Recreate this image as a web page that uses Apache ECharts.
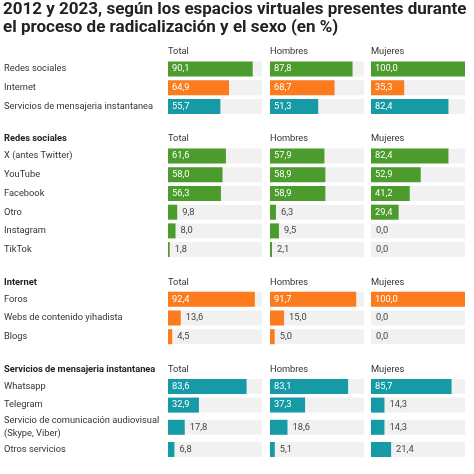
<!DOCTYPE html>
<html>
<head>
<meta charset="utf-8">
<script src="https://cdn.jsdelivr.net/npm/echarts@6/dist/echarts.min.js"></script>
<style>
  html, body { margin: 0; padding: 0; background: #fff; }
  #chart { width: 474px; height: 474px; }
</style>
</head>
<body>
<div id="chart"></div>
<script>
const columns = ['Total', 'Hombres', 'Mujeres'];

// resumen
const resumenCats = ['Redes sociales', 'Internet', 'Servicios de mensajeria instantanea'];
const resumenTotal = [90.1, 64.9, 55.7];
const resumenHombres = [87.8, 68.7, 51.3];
const resumenMujeres = [100.0, 35.3, 82.4];

// redes sociales
const redesCats = ['X (antes Twitter)', 'YouTube', 'Facebook', 'Otro', 'Instagram', 'TikTok'];
const redesTotal = [61.6, 58.0, 56.3, 9.8, 8.0, 1.8];
const redesHombres = [57.9, 58.9, 58.9, 6.3, 9.5, 2.1];
const redesMujeres = [82.4, 52.9, 41.2, 29.4, 0.0, 0.0];

// internet
const internetCats = ['Foros', 'Webs de contenido yihadista', 'Blogs'];
const internetTotal = [92.4, 13.6, 4.5];
const internetHombres = [91.7, 15.0, 5.0];
const internetMujeres = [100.0, 0.0, 0.0];

// mensajeria
const mensajeriaCats = ['Whatsapp', 'Telegram', 'Servicio de comunicación audiovisual\n(Skype, Viber)', 'Otros servicios'];
const mensajeriaTotal = [83.6, 32.9, 17.8, 6.8];
const mensajeriaHombres = [83.1, 37.3, 18.6, 5.1];
const mensajeriaMujeres = [85.7, 14.3, 14.3, 21.4];

const GREEN = '#4b9b2d';
const ORANGE = '#fb7b1d';
const TEAL = '#169aa6';

const blocks = [
  { name: '', cats: resumenCats, vals: [resumenTotal, resumenHombres, resumenMujeres], colors: [GREEN, ORANGE, TEAL] },
  { name: 'Redes sociales', cats: redesCats, vals: [redesTotal, redesHombres, redesMujeres], colors: [GREEN] },
  { name: 'Internet', cats: internetCats, vals: [internetTotal, internetHombres, internetMujeres], colors: [ORANGE] },
  { name: 'Servicios de mensajeria instantanea', cats: mensajeriaCats, vals: [mensajeriaTotal, mensajeriaHombres, mensajeriaMujeres], colors: [TEAL] }
];

const font = 'Roboto, sans-serif';
const fs = 9.3;
const colLeft = [168, 270, 371];
const colWidth = 94;
const pitch = 18.7;

const grids = [], xAxes = [], yAxes = [], series = [], graphics = [];
const fmt = v => v.toFixed(1).replace('.', ',');

let y = 52;
blocks.forEach(b => {
  if (b.name) {
    graphics.push({ type: 'text', x: 4, y: y, style: { text: b.name, font: 'bold ' + fs + 'px ' + font, fill: '#222', verticalAlign: 'middle' } });
  }
  columns.forEach((col, ci) => {
    graphics.push({ type: 'text', x: colLeft[ci], y: y, style: { text: col, font: fs + 'px ' + font, fill: '#333', verticalAlign: 'middle' } });
  });
  let c = y + 17;
  b.cats.forEach((cat, ri) => {
    const tall = cat.indexOf('\n') >= 0;
    if (tall) c += 3.5;
    const color = b.colors[ri % b.colors.length];
    columns.forEach((col, ci) => {
      const gi = grids.length;
      grids.push({ left: colLeft[ci], width: colWidth, top: c - pitch / 2, height: pitch });
      xAxes.push({ type: 'value', gridIndex: gi, min: 0, max: 100, show: false });
      yAxes.push({
        type: 'category', gridIndex: gi, data: [cat],
        axisLine: { show: false }, axisTick: { show: false },
        axisLabel: {
          show: ci === 0, align: 'left', margin: 164,
          color: '#333', fontSize: fs, fontFamily: font, lineHeight: 12.5
        }
      });
      const v = b.vals[ci][ri];
      const inside = v > 25;
      series.push({
        type: 'bar', xAxisIndex: gi, yAxisIndex: gi,
        barWidth: 15, silent: true,
        showBackground: true,
        backgroundStyle: { color: '#f1f1f1' },
        itemStyle: { color: color },
        label: {
          show: true,
          position: inside ? 'insideLeft' : 'right',
          distance: inside ? 4 : 5,
          color: inside ? '#fff' : '#444',
          fontSize: fs, fontFamily: font,
          formatter: p => fmt(p.value)
        },
        data: [v]
      });
    });
    c += pitch + (tall ? 3.5 : 0);
  });
  y = c - pitch + 32.7;
});

const chart = echarts.init(document.getElementById('chart'));
chart.setOption({
  animation: false,
  backgroundColor: '#fff',
  title: {
    text: '2012 y 2023, según los espacios virtuales presentes durante\nel proceso de radicalización y el sexo (en %)',
    left: 3, top: 1, padding: 0,
    textStyle: { fontFamily: font, fontWeight: 'bold', fontSize: 17, lineHeight: 17.5, color: '#222' }
  },
  grid: grids,
  xAxis: xAxes,
  yAxis: yAxes,
  series: series,
  graphic: graphics
});
</script>
</body>
</html>
